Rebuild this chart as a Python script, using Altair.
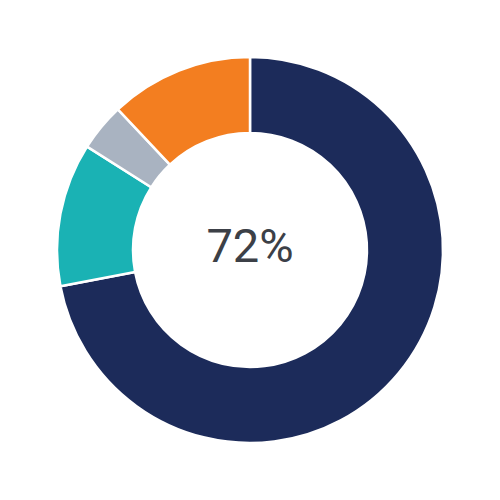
import altair as alt
import pandas as pd

categories = ["A", "B", "C", "D"]
values = [72, 12, 4, 12]
colors = ["#1c2b5a", "#1ab2b4", "#a9b3c1", "#f37e20"]
center_label = "72%"

df = pd.DataFrame({"cat": categories, "value": values, "order": list(range(len(values)))})

arcs = alt.Chart(df).mark_arc(outerRadius=193, innerRadius=117, stroke="white", strokeWidth=2.5).encode(
    theta=alt.Theta("value:Q", stack=True),
    order=alt.Order("order:Q"),
    color=alt.Color("cat:N", scale=alt.Scale(domain=categories, range=colors), legend=None),
)

text = alt.Chart(pd.DataFrame({"t": [center_label]})).mark_text(
    font="Roboto", fontSize=47, color="#3c4047", baseline="middle", align="center"
).encode(text="t:N", x=alt.value(242), y=alt.value(240))

chart = alt.layer(arcs, text).properties(
    width=484, height=484, padding=0, autosize=alt.AutoSizeParams(type="none")
).configure_view(stroke=None)

chart.save("out.html", embed_options={"renderer": "svg", "actions": False})
